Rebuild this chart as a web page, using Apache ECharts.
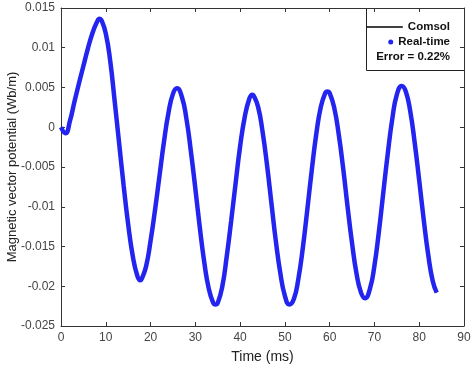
<!DOCTYPE html>
<html>
<head>
<meta charset="utf-8">
<script src="https://cdn.jsdelivr.net/npm/echarts@6/dist/echarts.min.js"></script>
<style>html,body{margin:0;padding:0;background:#fff;}#c{width:474px;height:372px;}</style>
</head>
<body>
<div id="c"></div>
<script>
// Time (ms)
const timeMs = [0,1,2,3,4,5,6,7,8,8.6,9,10,11,12,13,14,15,16,17,17.7,18,19,20,21,22,23,24,25,25.9,27,28,29,30,31,32,33,34,34.5,35,36,37,38,39,40,41,42,42.7,43,44,45,46,47,48,49,50,51,52,53,54,55,56,57,58,59,59.5,60,61,62,63,64,65,66,67,67.9,69,70,71,72,73,74,75,76.1,77,78,79,80,81,82,83,83.9];
// Real-time magnetic vector potential (Wb/m)
const realTime = [0,-0.00075,0.0008,0.0032,0.0055,0.0077,0.0099,0.0118,0.0132,0.01365,0.0135,0.0118,0.0083,0.0032,-0.0021,-0.0074,-0.0122,-0.0161,-0.0186,-0.01925,-0.0191,-0.0175,-0.0143,-0.0104,-0.0061,-0.0018,0.0018,0.0042,0.0049,0.0038,0.0011,-0.0030,-0.0077,-0.0126,-0.0170,-0.0203,-0.0221,-0.0223,-0.0221,-0.0201,-0.0163,-0.0118,-0.0070,-0.0024,0.0012,0.0035,0.0041,0.0040,0.0026,-0.0005,-0.0047,-0.0096,-0.0144,-0.0184,-0.0212,-0.0223,-0.0216,-0.0191,-0.0152,-0.0104,-0.0054,-0.0009,0.0025,0.0043,0.0045,0.0043,0.0025,-0.0008,-0.0051,-0.0100,-0.0146,-0.0184,-0.0208,-0.0215,-0.0203,-0.0174,-0.0131,-0.0081,-0.0032,0.0011,0.0041,0.0052,0.0045,0.0020,-0.0020,-0.0067,-0.0116,-0.0160,-0.0193,-0.0208];
// Comsol reference (overlaps real-time within 0.22%)
const comsol = realTime.slice();
const xTicks = [0,10,20,30,40,50,60,70,80,90];
const yTicks = [-0.025,-0.02,-0.015,-0.01,-0.005,0,0.005,0.01,0.015];
const errorText = 'Error = 0.22%';

const chart = echarts.init(document.getElementById('c'));
const axisColor = '#333';
const labelColor = '#444';
const font = 'Arial, "Liberation Sans", sans-serif';
const fmtY = v => String(parseFloat(Number(v).toFixed(3)));
const legendText = {color: '#111', fontSize: 11.5, fontWeight: 'bold', fontFamily: font};

chart.setOption({
  animation: false,
  backgroundColor: '#fff',
  grid: {left: 61, right: 10, top: 8, bottom: 46, containLabel: false, outerBoundsMode: 'none'},
  xAxis: [{
    type: 'value', min: xTicks[0], max: xTicks[xTicks.length-1], interval: 10,
    name: 'Time (ms)', nameLocation: 'middle', nameGap: 24, nameMoveOverlap: false,
    nameTextStyle: {color: '#222', fontSize: 14, fontFamily: font},
    axisLine: {onZero: false, lineStyle: {color: axisColor, width: 1}},
    axisTick: {inside: true, length: 4, lineStyle: {color: axisColor}},
    axisLabel: {color: labelColor, fontSize: 12, fontFamily: font, margin: 6},
    splitLine: {show: false}
  }, {
    type: 'value', position: 'top', min: xTicks[0], max: xTicks[xTicks.length-1], interval: 10,
    axisLine: {show: true, onZero: false, lineStyle: {color: axisColor, width: 1}},
    axisTick: {inside: true, length: 4, lineStyle: {color: axisColor}},
    axisLabel: {show: false}, splitLine: {show: false}
  }],
  yAxis: [{
    type: 'value', min: yTicks[0], max: yTicks[yTicks.length-1], interval: 0.005,
    name: 'Magnetic vector potential (Wb/m)', nameLocation: 'middle', nameGap: 42, nameMoveOverlap: false,
    nameTextStyle: {color: '#222', fontSize: 13, fontFamily: font},
    axisLine: {show: true, onZero: false, lineStyle: {color: axisColor, width: 1}},
    axisTick: {show: true, inside: true, length: 4, lineStyle: {color: axisColor}},
    axisLabel: {color: labelColor, fontSize: 12, fontFamily: font, margin: 6, formatter: fmtY},
    splitLine: {show: false}
  }, {
    type: 'value', position: 'right', min: yTicks[0], max: yTicks[yTicks.length-1], interval: 0.005,
    axisLine: {show: true, onZero: false, lineStyle: {color: axisColor, width: 1}},
    axisTick: {show: true, inside: true, length: 4, lineStyle: {color: axisColor}},
    axisLabel: {show: false}, splitLine: {show: false}
  }],
  legend: [{
    data: [{name: 'Comsol', icon: 'path://M0,0 L40,0 L40,1.5 L0,1.5 Z'}],
    right: 24, top: 21, padding: 0, itemWidth: 36, itemHeight: 2, itemGap: 5, selectedMode: false,
    textStyle: legendText
  }, {
    data: [{name: 'Real-time', icon: 'circle'}],
    right: 24, top: 36, padding: 0, itemWidth: 5, itemHeight: 5, itemGap: 8, selectedMode: false,
    textStyle: legendText
  }],
  graphic: [{
    type: 'rect', left: 366, top: 8, silent: true,
    shape: {width: 98, height: 62},
    style: {fill: 'rgba(255,255,255,0)', stroke: '#222', lineWidth: 1}
  }, {
    type: 'text', right: 24, top: 51, silent: true,
    style: {text: errorText, fill: '#111', font: 'bold 11.5px ' + font}
  }],
  series: [{
    name: 'Comsol', type: 'line', smooth: true, symbol: 'none',
    data: timeMs.map((t, i) => [t, comsol[i]]),
    lineStyle: {color: '#000', width: 1}, itemStyle: {color: '#000'}, z: 2
  }, {
    name: 'Real-time', type: 'line', smooth: true, symbol: 'none',
    data: timeMs.map((t, i) => [t, realTime[i]]),
    lineStyle: {color: '#2424f0', width: 4.5}, itemStyle: {color: '#2424f0'}, z: 3
  }]
});
</script>
</body>
</html>
